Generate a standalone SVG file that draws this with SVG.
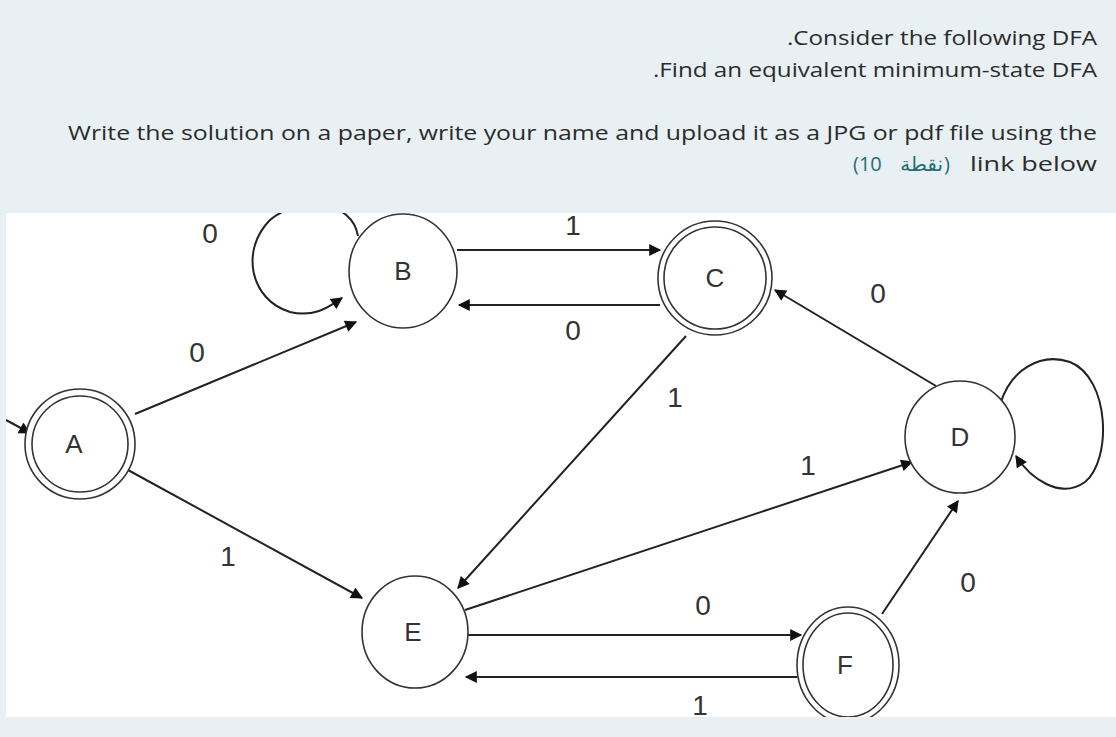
<svg xmlns="http://www.w3.org/2000/svg" width="1116" height="737" viewBox="0 0 1116 737">
<defs>
<style>
.hd{font-family:"Open Sans","Noto Sans",sans-serif;font-size:20px;fill:#2b2b2b}
.ar{font-family:"Open Sans","Noto Sans","DejaVu Sans",sans-serif;font-size:20px;fill:#1f6f73}
.st{fill:#fff;stroke:#333;stroke-width:1.6}
.nl{font-family:"Liberation Sans",Arial,sans-serif;font-size:26px;fill:#333;text-anchor:middle}
.el{font-family:"Liberation Sans",Arial,sans-serif;font-size:28px;fill:#333;text-anchor:middle}
.ed{fill:none;stroke:#222;stroke-width:2;marker-end:url(#ah)}
</style>
<marker id="ah" viewBox="0 0 10 10" refX="9" refY="5" markerWidth="13" markerHeight="12" markerUnits="userSpaceOnUse" orient="auto"><path d="M0,0 L10,5 L0,10 z" fill="#111"/></marker>
<clipPath id="cp"><rect x="6" y="213" width="1110" height="504"/></clipPath>
</defs>
<rect width="1116" height="737" fill="#e8f0f3"/>
<text class="hd" x="787" y="45" textLength="310" lengthAdjust="spacingAndGlyphs">.Consider the following DFA</text>
<text class="hd" x="653" y="77" textLength="444" lengthAdjust="spacingAndGlyphs">.Find an equivalent minimum-state DFA</text>
<text class="hd" x="68" y="140" textLength="1029" lengthAdjust="spacingAndGlyphs">Write the solution on a paper, write your name and upload it  as a JPG or pdf  file using the</text>
<text class="hd" x="970" y="171" textLength="127" lengthAdjust="spacingAndGlyphs">link below</text>
<text class="ar" x="853" y="171">(10</text>
<text class="ar" x="943" y="171" text-anchor="end">نقطة</text>
<text class="ar" x="944" y="171">)</text>
<rect x="6" y="213" width="1110" height="504" fill="#fff"/>
<g clip-path="url(#cp)">
<g id="connectors">
<path class="ed" d="M6,420 L30,433"/>
<path class="ed" d="M135,414 L356,322"/>
<path class="ed" d="M128,470 L362,598"/>
<path class="ed" d="M358,236 C352,200 300,195 270,220 C240,250 250,300 290,312 C315,318 330,306 342,298"/>
<path class="ed" d="M457,250 L660,250"/>
<path class="ed" d="M660,305 L459,305"/>
<path class="ed" d="M686,336 L458,588"/>
<path class="ed" d="M936,386 L775,290"/>
<path class="ed" d="M1000,405 C1010,370 1040,352 1070,362 C1110,378 1112,460 1085,482 C1060,500 1030,478 1016,456"/>
<path class="ed" d="M465,610 L912,462"/>
<path class="ed" d="M468,635 L801,635"/>
<path class="ed" d="M797,677 L466,677"/>
<path class="ed" d="M882,614 L958,501"/>
</g>
<g id="labels">
<text class="el" x="210" y="243">0</text>
<text class="el" x="197" y="362">0</text>
<text class="el" x="573" y="235">1</text>
<text class="el" x="573" y="340">0</text>
<text class="el" x="675" y="407">1</text>
<text class="el" x="878" y="303">0</text>
<text class="el" x="228" y="566">1</text>
<text class="el" x="808" y="475">1</text>
<text class="el" x="703" y="615">0</text>
<text class="el" x="700" y="715">1</text>
<text class="el" x="968" y="592">0</text>
</g>
<g id="A"><circle class="st" cx="80" cy="444" r="55"/><circle class="st" cx="80" cy="444" r="48"/><text class="nl" x="74" y="453">A</text></g>
<g id="B"><ellipse class="st" cx="403" cy="271" rx="54" ry="57"/><text class="nl" x="403" y="280">B</text></g>
<g id="C"><circle class="st" cx="715" cy="278" r="57"/><circle class="st" cx="715" cy="278" r="51"/><text class="nl" x="715" y="287">C</text></g>
<g id="D"><ellipse class="st" cx="960" cy="437" rx="55" ry="56"/><text class="nl" x="960" y="446">D</text></g>
<g id="E"><ellipse class="st" cx="415" cy="632" rx="53" ry="56"/><text class="nl" x="413" y="641">E</text></g>
<g id="F"><ellipse class="st" cx="848" cy="665" rx="51" ry="58"/><ellipse class="st" cx="848" cy="665" rx="45" ry="52"/><text class="nl" x="845" y="674">F</text></g>
</g>
</svg>
